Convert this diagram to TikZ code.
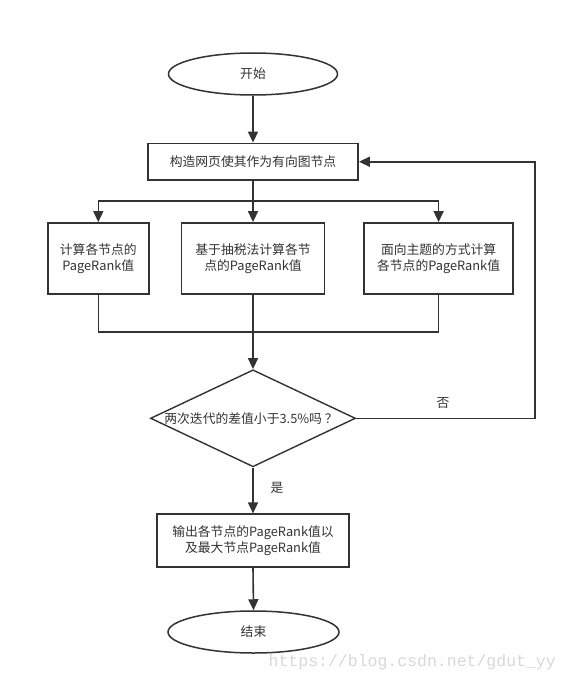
\documentclass[tikz,border=0pt]{standalone}
\usepackage{fontspec}
\setmainfont{Noto Sans CJK SC}
\newfontfamily\wmfont{Liberation Mono}
\usetikzlibrary{shapes.geometric,arrows.meta}
\definecolor{ln}{HTML}{333333}
\definecolor{wm}{HTML}{D8D8D8}
\tikzset{
  base/.style={draw=ln, text=ln, font=\fontsize{12.8}{16}\selectfont, align=center, inner sep=0pt},
  boxnode/.style={base, rectangle, line width=1.8pt},
  ovalnode/.style={base, ellipse, line width=1.5pt, minimum width=169pt, minimum height=42pt},
  decnode/.style={base, diamond, line width=1.4pt, aspect=2.11, minimum width=205pt, minimum height=97pt},
  conn/.style={draw=ln, line width=1.6pt},
  arr/.style={conn, -{Triangle[length=11pt,width=10pt]}},
  lbl/.style={text=ln, font=\fontsize{12.8}{14}\selectfont, inner sep=0pt}
}
\begin{document}
\begin{tikzpicture}[x=1pt,y=-1pt]
\useasboundingbox (0,0) rectangle (567,685);
\fill[white] (0,0) rectangle (567,685);

\node[ovalnode] (start) at (253,74) {开始};
\node[boxnode, minimum width=210pt, minimum height=36.5pt] (box1) at (253,161.75) {构造网页使其作为有向图节点};
\node[boxnode, minimum width=100.6pt, minimum height=71pt] (A) at (98.3,258.5) {计算各节点的\\PageRank值};
\node[boxnode, minimum width=143pt, minimum height=71pt] (B) at (253,258.5) {基于抽税法计算各节\\点的PageRank值};
\node[boxnode, minimum width=148.5pt, minimum height=71pt] (C) at (438.6,258.5) {面向主题的方式计算\\各节点的PageRank值};
\node[decnode] (dec) at (253,418.3) {};
\node[lbl] (dectext) at (251,418.3) {两次迭代的差值小于3.5\%吗 ？};
\node[boxnode, minimum width=191.6pt, minimum height=52.4pt] (out) at (253,540.5) {输出各节点的PageRank值以\\及最大节点PageRank值};
\node[ovalnode, minimum width=171pt] (end) at (253.5,632) {结束};

\coordinate (br) at (253,201);
\coordinate (mg) at (253,332);
\coordinate (lp) at (535,418.3);

\draw[arr] (start) -- (box1);
\draw[conn] (box1.south) -- (br);
\draw[arr] (br) -| (A.north);
\draw[arr] (br) -| (C.north);
\draw[arr] (br) -- (B.north);
\draw[conn] (A.south) |- (mg);
\draw[conn] (C.south) |- (mg);
\draw[conn] (B.south) -- (mg);
\draw[arr] (mg) -- (dec.north);
\draw[arr] (dec.east) -- (lp) |- (box1.east);
\draw[arr] (dec.south) -- (out.north);
\draw[arr] (out.south) -- (end.north);

\node[lbl] (no) at (443,403) {否};
\node[lbl] (yes) at (277,488) {是};

\node[text=wm, font=\wmfont\fontsize{16.5}{18}\selectfont, inner sep=0pt, anchor=east] (wmk) at (556,662) {https://blog.csdn.net/gdut\_yy};
\end{tikzpicture}
\end{document}
